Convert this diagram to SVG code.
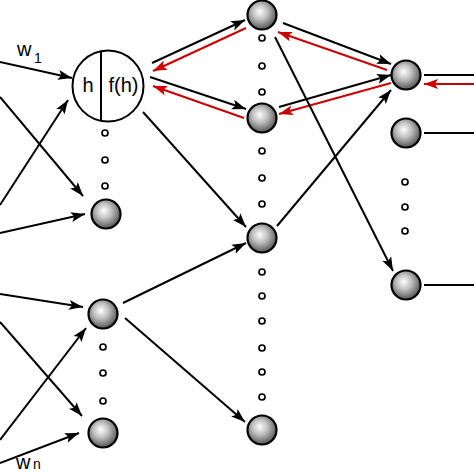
<svg xmlns="http://www.w3.org/2000/svg" width="474" height="474" viewBox="0 0 474 474">
<defs>
<radialGradient id="g" cx="0.45" cy="0.42" r="0.6" fx="0.42" fy="0.38">
<stop offset="0" stop-color="#ffffff"/>
<stop offset="0.45" stop-color="#bdbdbd"/>
<stop offset="1" stop-color="#4f4f4f"/>
</radialGradient>
<marker id="ab" markerUnits="userSpaceOnUse" markerWidth="15" markerHeight="11" refX="14" refY="5.5" orient="auto">
<path d="M0,0.5 L14,5.5 L0,10.5 L3,5.5 z" fill="#000"/>
</marker>
<marker id="ar" markerUnits="userSpaceOnUse" markerWidth="15" markerHeight="11" refX="14" refY="5.5" orient="auto">
<path d="M0,0.5 L14,5.5 L0,10.5 L3,5.5 z" fill="#cc0000"/>
</marker>
</defs>
<style>
.k{stroke:#000;stroke-width:2;fill:none}
.ka{stroke:#000;stroke-width:2;fill:none;marker-end:url(#ab)}
.ra{stroke:#cc0000;stroke-width:2;fill:none;marker-end:url(#ar)}
.n{fill:url(#g);stroke:#000;stroke-width:2.2}
.d{fill:#fff;stroke:#000;stroke-width:1.7}
.t{font-family:"Liberation Sans",Arial,sans-serif;fill:#000}
</style>
<g id="connectors">
<line class="ka" x1="0" y1="62" x2="72" y2="78"/>
<line class="ka" x1="0" y1="97" x2="83" y2="196"/>
<line class="ka" x1="0" y1="205" x2="68" y2="100"/>
<line class="ka" x1="0" y1="233" x2="85" y2="214"/>
<line class="ka" x1="0" y1="294" x2="83" y2="307"/>
<line class="ka" x1="0" y1="322" x2="82" y2="416"/>
<line class="ka" x1="0" y1="440" x2="86" y2="328"/>
<line class="ka" x1="0" y1="463" x2="79" y2="433"/>
<line class="ka" x1="152" y1="63" x2="245" y2="20"/>
<line class="ra" x1="246" y1="28" x2="153" y2="71"/>
<line class="ka" x1="150" y1="77" x2="246" y2="109"/>
<line class="ra" x1="244" y1="118" x2="153" y2="86"/>
<line class="ka" x1="143" y1="112" x2="246" y2="227"/>
<line class="ka" x1="123" y1="303" x2="246" y2="243"/>
<line class="ka" x1="125" y1="318" x2="245" y2="422"/>
<line class="ka" x1="283" y1="23" x2="391" y2="64"/>
<line class="ra" x1="387" y1="70" x2="278" y2="32"/>
<line class="ka" x1="279" y1="107" x2="391" y2="75"/>
<line class="ra" x1="391" y1="83" x2="279" y2="114"/>
<line class="ka" x1="277" y1="226" x2="391" y2="90"/>
<line class="ka" x1="275" y1="37" x2="393" y2="271"/>
<line class="k" x1="424" y1="75" x2="474" y2="75"/>
<line class="ra" x1="474" y1="84" x2="424" y2="84"/>
<line class="k" x1="424" y1="133" x2="474" y2="133"/>
<line class="k" x1="424" y1="285" x2="474" y2="285"/>
</g>
<g id="neuron">
<circle cx="108" cy="86" r="35.5" fill="#fff" stroke="#000" stroke-width="2"/>
<line x1="101" y1="51.2" x2="101" y2="120.8" stroke="#000" stroke-width="2"/>
<text class="t" x="88" y="92" font-size="20" text-anchor="middle">h</text>
<text class="t" x="123.5" y="92" font-size="20" text-anchor="middle">f(h)</text>
</g>
<g id="n1b"><circle class="n" cx="106" cy="214" r="14.5"/></g>
<g id="n1c"><circle class="n" cx="103" cy="314" r="14.5"/></g>
<g id="n1d"><circle class="n" cx="103" cy="433" r="14.5"/></g>
<g id="n2a"><circle class="n" cx="262" cy="15" r="14.5"/></g>
<g id="n2b"><circle class="n" cx="262" cy="118" r="14.5"/></g>
<g id="n2c"><circle class="n" cx="262" cy="238" r="14.5"/></g>
<g id="n2d"><circle class="n" cx="262" cy="430" r="14.5"/></g>
<g id="n3a"><circle class="n" cx="406" cy="75" r="14.5"/></g>
<g id="n3b"><circle class="n" cx="406" cy="133" r="14.5"/></g>
<g id="n3c"><circle class="n" cx="406" cy="285" r="14.5"/></g>
<g id="dots">
<circle class="d" cx="105" cy="133" r="3"/>
<circle class="d" cx="105" cy="160" r="3"/>
<circle class="d" cx="105" cy="186" r="3"/>
<circle class="d" cx="103" cy="347" r="3"/>
<circle class="d" cx="103" cy="373" r="3"/>
<circle class="d" cx="103" cy="401" r="3"/>
<circle class="d" cx="262" cy="38" r="3"/>
<circle class="d" cx="262" cy="66" r="3"/>
<circle class="d" cx="262" cy="92" r="3"/>
<circle class="d" cx="262" cy="151" r="3"/>
<circle class="d" cx="262" cy="178" r="3"/>
<circle class="d" cx="262" cy="204" r="3"/>
<circle class="d" cx="262" cy="272" r="3"/>
<circle class="d" cx="262" cy="296" r="3"/>
<circle class="d" cx="262" cy="321" r="3"/>
<circle class="d" cx="262" cy="348" r="3"/>
<circle class="d" cx="262" cy="372" r="3"/>
<circle class="d" cx="262" cy="397" r="3"/>
<circle class="d" cx="405" cy="182" r="3"/>
<circle class="d" cx="405" cy="207" r="3"/>
<circle class="d" cx="405" cy="231" r="3"/>
</g>
<g id="labels">
<text class="t" x="17" y="56" font-size="20">w</text>
<text class="t" x="34" y="63" font-size="14">1</text>
<text class="t" x="16" y="469" font-size="20">w</text>
<text class="t" x="33" y="469" font-size="14">n</text>
</g>
</svg>
